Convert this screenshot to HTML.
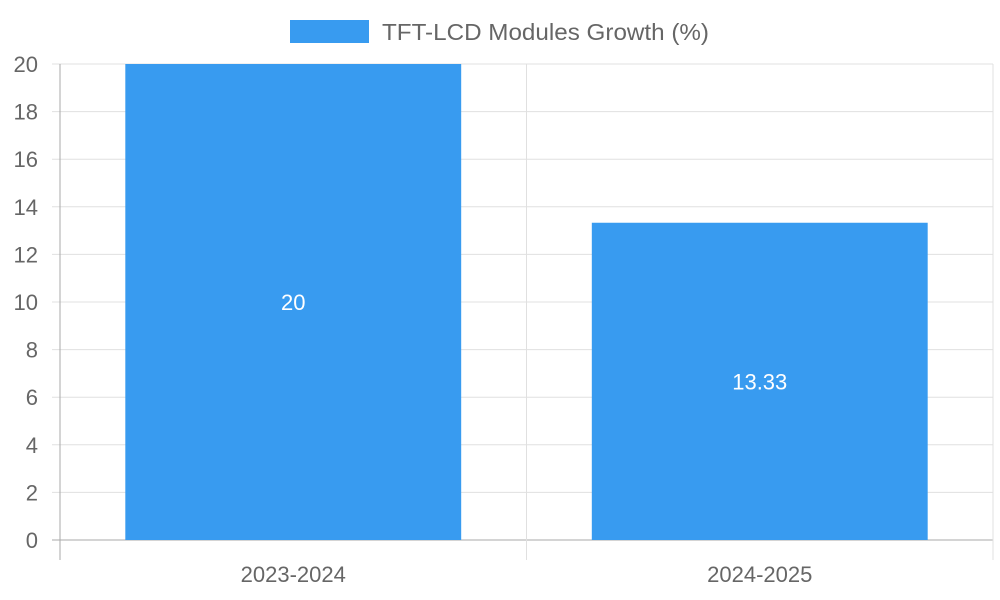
<!DOCTYPE html>
<html><head><meta charset="utf-8"><style>
html,body{margin:0;padding:0;background:#fff;}
svg{display:block;font-family:"Liberation Sans",sans-serif;}
</style></head><body>
<svg id="chart" width="1000" height="600" viewBox="0 0 1000 600">
<g id="legend">
<rect x="290" y="20" width="79" height="23" fill="#389BF0"/>
<text x="382" y="40" font-size="23" fill="#666" textLength="327" lengthAdjust="spacingAndGlyphs">TFT-LCD Modules Growth (%)</text>
</g>
<g id="grid"></g>
<g id="bars"></g>
<g id="axes"></g>
</svg>
<script>
const categories = ["2023-2024", "2024-2025"];
const growthValues = [20, 13.33];
const valueLabels = ["20", "13.33"];
const yTicks = [0, 2, 4, 6, 8, 10, 12, 14, 16, 18, 20];

const NS = "http://www.w3.org/2000/svg";
const plotLeft = 60, plotRight = 993, plotTop = 64, plotBottom = 540, yMax = 20;
const yScale = v => plotBottom - (v / yMax) * (plotBottom - plotTop);
const band = (plotRight - plotLeft) / categories.length;
const xCenter = i => plotLeft + band * (i + 0.5);
function mk(tag, attrs, parent) {
  const e = document.createElementNS(NS, tag);
  for (const k in attrs) e.setAttribute(k, attrs[k]);
  parent.appendChild(e);
  return e;
}
const gridG = document.getElementById("grid");
const barsG = document.getElementById("bars");
const axesG = document.getElementById("axes");

yTicks.forEach(t => {
  const l = mk("line", {x1: plotLeft - 8, x2: plotRight, y1: yScale(t), y2: yScale(t), stroke: t === 0 ? "#aaa" : "#e0e0e0", "stroke-width": 1}, gridG);
  
  
  const tx = mk("text", {x: 38, y: yScale(t) + 8, "text-anchor": "end", "font-size": 22, fill: "#666"}, axesG);
  tx.textContent = t;
  
  
});
for (let i = 0; i <= categories.length; i++) {
  const x = plotLeft + band * i;
  const l = mk("line", {x1: x, x2: x, y1: plotTop, y2: plotBottom + 20, stroke: i === 0 ? "#aaa" : "#e0e0e0", "stroke-width": 1}, gridG);
  
  
}
const barW = band * 0.72;
categories.forEach((c, i) => {
  const v = growthValues[i];
  const r = mk("rect", {x: xCenter(i) - barW / 2, y: yScale(v), width: barW, height: plotBottom - yScale(v), fill: "#389BF0"}, barsG);
  
  
  const vl = mk("text", {x: xCenter(i), y: (yScale(v) + plotBottom) / 2 + 8, "text-anchor": "middle", "font-size": 22, fill: "#fff"}, barsG);
  vl.textContent = valueLabels[i];
  
  
  const xl = mk("text", {x: xCenter(i), y: 582, "text-anchor": "middle", "font-size": 22, fill: "#666"}, axesG);
  xl.textContent = c;
  
  
});
</script>
</body></html>
